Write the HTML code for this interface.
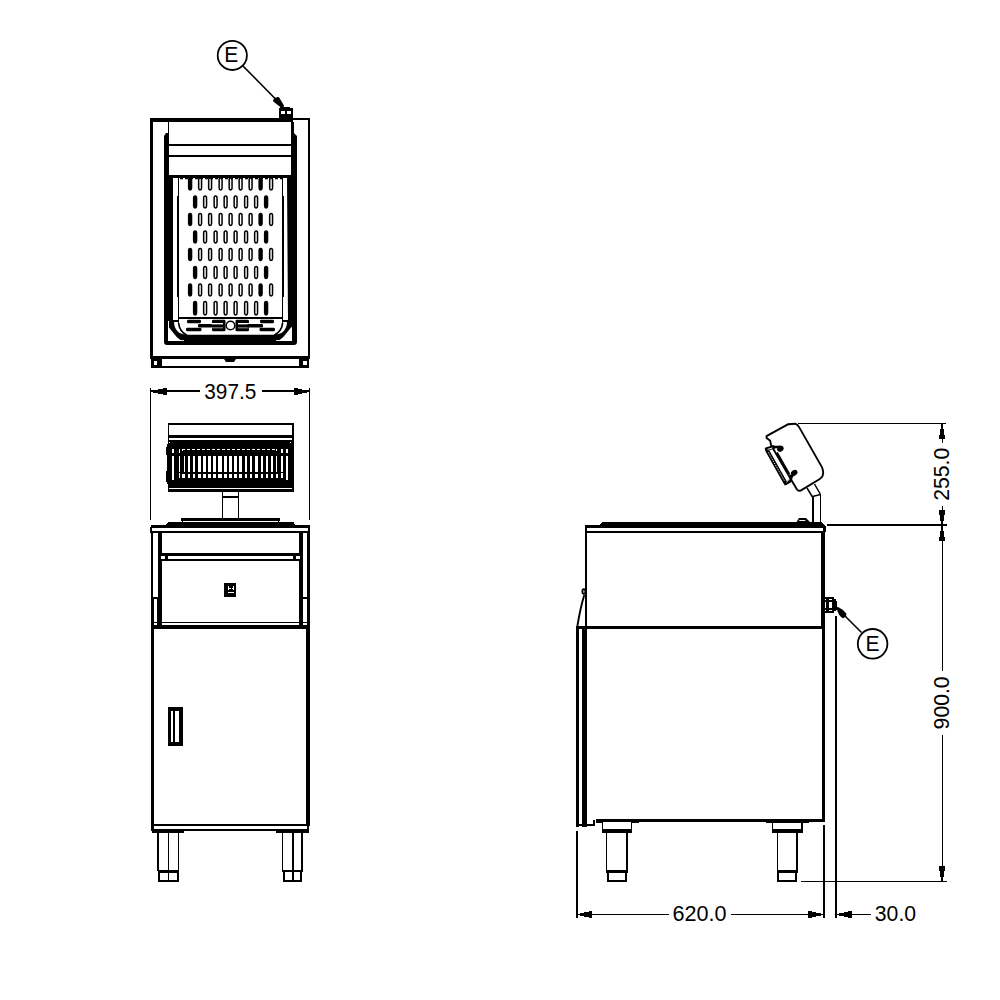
<!DOCTYPE html>
<html><head><meta charset="utf-8"><title>Fryer dimensions</title>
<style>
html,body{margin:0;padding:0;background:#fff;}
body{width:1000px;height:1000px;overflow:hidden;font-family:"Liberation Sans",sans-serif;}
svg{display:block;}
text{font-family:"Liberation Sans",sans-serif;font-size:21px;fill:#000;}
</style></head><body>
<svg width="1000" height="1000" viewBox="0 0 1000 1000">
<rect x="0" y="0" width="1000" height="1000" fill="#fff"/>
<g shape-rendering="crispEdges">
<rect x="150" y="118" width="3" height="241" fill="#000"/>
<rect x="150" y="118" width="143" height="4" fill="#000"/>
<rect x="293" y="118" width="17" height="2" fill="#000"/>
<rect x="308" y="118" width="2" height="241" fill="#000"/>
<rect x="150" y="356" width="160" height="3" fill="#000"/>
<rect x="152" y="366" width="156" height="2" fill="#000"/>
<rect x="151" y="359" width="1" height="8" fill="#000"/>
<rect x="308" y="359" width="1" height="8" fill="#000"/>
<rect x="151" y="359" width="11" height="9" fill="#000"/>
<rect x="154" y="361" width="3" height="4" fill="#fff"/>
<rect x="299" y="359" width="10" height="9" fill="#000"/>
<rect x="303" y="361" width="4" height="4" fill="#fff"/>
<rect x="279" y="108" width="14" height="10" fill="#000"/>
<rect x="280" y="107" width="10" height="2" fill="#000"/>
<rect x="281" y="111" width="4" height="3" fill="#fff"/>
<rect x="287" y="111" width="4" height="3" fill="#fff"/>
<rect x="168" y="122" width="1" height="56" fill="#000"/>
<rect x="291" y="122" width="1" height="56" fill="#000"/>
<rect x="291" y="122" width="3" height="12" fill="#000"/>
<rect x="169" y="144" width="123" height="2" fill="#000"/>
<rect x="169" y="155" width="123" height="2" fill="#000"/>
<rect x="164" y="175" width="133" height="3" fill="#000"/>
</g>
<path d="M224,359 L236,359 L234,362 L226,362 Z" fill="#000" stroke="none" stroke-width="0" />
<path d="M164,136 L166,133 L169,133 L169,175 L292,175 L292,133 L294,133 L297,136 L297,342 Q297,345 294,345 L167,345 Q164,345 164,342 Z M173,178 L173,322 L174,322 Q174.5,333.5 186,334.8 L275,334.8 Q286.5,333.5 287,322 L288,322 L287,178 Z" fill="#000" stroke="none" stroke-width="0" fill-rule="evenodd"/>
<path d="M168,321 L169,321 L169,327.5 L172,331.2 L175,335 L177.2,337.6 L180.4,340 L184,340.3 L184,341 L168,341 Z" fill="#fff" stroke="none" stroke-width="0" />
<path d="M292,327 L291,327.5 L288,331.2 L285,335 L282.8,337.6 L279.6,340 L276,340.3 L276,341 L292,341 Z" fill="#fff" stroke="none" stroke-width="0" />
<g shape-rendering="crispEdges">
<rect x="178" y="178" width="1" height="18" fill="#000"/>
<rect x="177" y="196" width="2" height="101" fill="#000"/>
<rect x="178" y="297" width="1" height="27" fill="#000"/>
<rect x="282" y="178" width="1" height="18" fill="#000"/>
<rect x="282" y="196" width="2" height="101" fill="#000"/>
<rect x="282" y="297" width="1" height="27" fill="#000"/>
<rect x="179" y="317" width="104" height="2" fill="#000"/>
<rect x="173" y="320" width="5" height="1.5" fill="#000"/>
<rect x="283" y="320" width="5" height="1.5" fill="#000"/>
</g>
<path d="M178.6,323 Q179.2,331 187,335.5" fill="none" stroke="#000" stroke-width="1.7" />
<path d="M282.6,323 Q282,331 274,335.5" fill="none" stroke="#000" stroke-width="1.7" />
<path d="M180,178.6 L283,178.6" stroke="#000" stroke-width="1.4" stroke-dasharray="3 2" fill="none"/>
<rect x="188.65" y="178.00" width="2.9" height="12" rx="1.45" ry="1.9" fill="#000" stroke="#000" stroke-width="1.5"/>
<rect x="198.65" y="178.00" width="2.9" height="12" rx="1.45" ry="1.9" fill="#fff" stroke="#000" stroke-width="1.5"/>
<rect x="208.65" y="178.00" width="2.9" height="12" rx="1.45" ry="1.9" fill="#fff" stroke="#000" stroke-width="1.5"/>
<rect x="219.15" y="178.00" width="2.9" height="12" rx="1.45" ry="1.9" fill="#fff" stroke="#000" stroke-width="1.5"/>
<rect x="229.15" y="178.00" width="2.9" height="12" rx="1.45" ry="1.9" fill="#fff" stroke="#000" stroke-width="1.5"/>
<rect x="239.15" y="178.00" width="2.9" height="12" rx="1.45" ry="1.9" fill="#fff" stroke="#000" stroke-width="1.5"/>
<rect x="249.15" y="178.00" width="2.9" height="12" rx="1.45" ry="1.9" fill="#fff" stroke="#000" stroke-width="1.5"/>
<rect x="259.15" y="178.00" width="2.9" height="12" rx="1.45" ry="1.9" fill="#000" stroke="#000" stroke-width="1.5"/>
<rect x="269.65" y="178.00" width="2.9" height="12" rx="1.45" ry="1.9" fill="#fff" stroke="#000" stroke-width="1.5"/>
<rect x="193.65" y="196.00" width="2.9" height="12" rx="1.45" ry="1.9" fill="#000" stroke="#000" stroke-width="1.5"/>
<rect x="203.65" y="196.00" width="2.9" height="12" rx="1.45" ry="1.9" fill="#fff" stroke="#000" stroke-width="1.5"/>
<rect x="214.15" y="196.00" width="2.9" height="12" rx="1.45" ry="1.9" fill="#fff" stroke="#000" stroke-width="1.5"/>
<rect x="224.15" y="196.00" width="2.9" height="12" rx="1.45" ry="1.9" fill="#fff" stroke="#000" stroke-width="1.5"/>
<rect x="234.15" y="196.00" width="2.9" height="12" rx="1.45" ry="1.9" fill="#fff" stroke="#000" stroke-width="1.5"/>
<rect x="244.65" y="196.00" width="2.9" height="12" rx="1.45" ry="1.9" fill="#fff" stroke="#000" stroke-width="1.5"/>
<rect x="254.65" y="196.00" width="2.9" height="12" rx="1.45" ry="1.9" fill="#fff" stroke="#000" stroke-width="1.5"/>
<rect x="264.65" y="196.00" width="2.9" height="12" rx="1.45" ry="1.9" fill="#000" stroke="#000" stroke-width="1.5"/>
<rect x="188.65" y="213.50" width="2.9" height="12" rx="1.45" ry="1.9" fill="#000" stroke="#000" stroke-width="1.5"/>
<rect x="198.65" y="213.50" width="2.9" height="12" rx="1.45" ry="1.9" fill="#fff" stroke="#000" stroke-width="1.5"/>
<rect x="208.65" y="213.50" width="2.9" height="12" rx="1.45" ry="1.9" fill="#fff" stroke="#000" stroke-width="1.5"/>
<rect x="219.15" y="213.50" width="2.9" height="12" rx="1.45" ry="1.9" fill="#fff" stroke="#000" stroke-width="1.5"/>
<rect x="229.15" y="213.50" width="2.9" height="12" rx="1.45" ry="1.9" fill="#fff" stroke="#000" stroke-width="1.5"/>
<rect x="239.15" y="213.50" width="2.9" height="12" rx="1.45" ry="1.9" fill="#fff" stroke="#000" stroke-width="1.5"/>
<rect x="249.15" y="213.50" width="2.9" height="12" rx="1.45" ry="1.9" fill="#fff" stroke="#000" stroke-width="1.5"/>
<rect x="259.15" y="213.50" width="2.9" height="12" rx="1.45" ry="1.9" fill="#000" stroke="#000" stroke-width="1.5"/>
<rect x="269.65" y="213.50" width="2.9" height="12" rx="1.45" ry="1.9" fill="#fff" stroke="#000" stroke-width="1.5"/>
<rect x="193.65" y="231.00" width="2.9" height="12" rx="1.45" ry="1.9" fill="#000" stroke="#000" stroke-width="1.5"/>
<rect x="203.65" y="231.00" width="2.9" height="12" rx="1.45" ry="1.9" fill="#fff" stroke="#000" stroke-width="1.5"/>
<rect x="214.15" y="231.00" width="2.9" height="12" rx="1.45" ry="1.9" fill="#fff" stroke="#000" stroke-width="1.5"/>
<rect x="224.15" y="231.00" width="2.9" height="12" rx="1.45" ry="1.9" fill="#fff" stroke="#000" stroke-width="1.5"/>
<rect x="234.15" y="231.00" width="2.9" height="12" rx="1.45" ry="1.9" fill="#fff" stroke="#000" stroke-width="1.5"/>
<rect x="244.65" y="231.00" width="2.9" height="12" rx="1.45" ry="1.9" fill="#fff" stroke="#000" stroke-width="1.5"/>
<rect x="254.65" y="231.00" width="2.9" height="12" rx="1.45" ry="1.9" fill="#fff" stroke="#000" stroke-width="1.5"/>
<rect x="264.65" y="231.00" width="2.9" height="12" rx="1.45" ry="1.9" fill="#000" stroke="#000" stroke-width="1.5"/>
<rect x="188.65" y="248.50" width="2.9" height="12" rx="1.45" ry="1.9" fill="#000" stroke="#000" stroke-width="1.5"/>
<rect x="198.65" y="248.50" width="2.9" height="12" rx="1.45" ry="1.9" fill="#fff" stroke="#000" stroke-width="1.5"/>
<rect x="208.65" y="248.50" width="2.9" height="12" rx="1.45" ry="1.9" fill="#fff" stroke="#000" stroke-width="1.5"/>
<rect x="219.15" y="248.50" width="2.9" height="12" rx="1.45" ry="1.9" fill="#fff" stroke="#000" stroke-width="1.5"/>
<rect x="229.15" y="248.50" width="2.9" height="12" rx="1.45" ry="1.9" fill="#fff" stroke="#000" stroke-width="1.5"/>
<rect x="239.15" y="248.50" width="2.9" height="12" rx="1.45" ry="1.9" fill="#fff" stroke="#000" stroke-width="1.5"/>
<rect x="249.15" y="248.50" width="2.9" height="12" rx="1.45" ry="1.9" fill="#fff" stroke="#000" stroke-width="1.5"/>
<rect x="259.15" y="248.50" width="2.9" height="12" rx="1.45" ry="1.9" fill="#000" stroke="#000" stroke-width="1.5"/>
<rect x="269.65" y="248.50" width="2.9" height="12" rx="1.45" ry="1.9" fill="#fff" stroke="#000" stroke-width="1.5"/>
<rect x="193.65" y="266.50" width="2.9" height="12" rx="1.45" ry="1.9" fill="#000" stroke="#000" stroke-width="1.5"/>
<rect x="203.65" y="266.50" width="2.9" height="12" rx="1.45" ry="1.9" fill="#fff" stroke="#000" stroke-width="1.5"/>
<rect x="214.15" y="266.50" width="2.9" height="12" rx="1.45" ry="1.9" fill="#fff" stroke="#000" stroke-width="1.5"/>
<rect x="224.15" y="266.50" width="2.9" height="12" rx="1.45" ry="1.9" fill="#fff" stroke="#000" stroke-width="1.5"/>
<rect x="234.15" y="266.50" width="2.9" height="12" rx="1.45" ry="1.9" fill="#fff" stroke="#000" stroke-width="1.5"/>
<rect x="244.65" y="266.50" width="2.9" height="12" rx="1.45" ry="1.9" fill="#fff" stroke="#000" stroke-width="1.5"/>
<rect x="254.65" y="266.50" width="2.9" height="12" rx="1.45" ry="1.9" fill="#fff" stroke="#000" stroke-width="1.5"/>
<rect x="264.65" y="266.50" width="2.9" height="12" rx="1.45" ry="1.9" fill="#000" stroke="#000" stroke-width="1.5"/>
<rect x="188.65" y="284.00" width="2.9" height="12" rx="1.45" ry="1.9" fill="#000" stroke="#000" stroke-width="1.5"/>
<rect x="198.65" y="284.00" width="2.9" height="12" rx="1.45" ry="1.9" fill="#fff" stroke="#000" stroke-width="1.5"/>
<rect x="208.65" y="284.00" width="2.9" height="12" rx="1.45" ry="1.9" fill="#fff" stroke="#000" stroke-width="1.5"/>
<rect x="219.15" y="284.00" width="2.9" height="12" rx="1.45" ry="1.9" fill="#fff" stroke="#000" stroke-width="1.5"/>
<rect x="229.15" y="284.00" width="2.9" height="12" rx="1.45" ry="1.9" fill="#fff" stroke="#000" stroke-width="1.5"/>
<rect x="239.15" y="284.00" width="2.9" height="12" rx="1.45" ry="1.9" fill="#fff" stroke="#000" stroke-width="1.5"/>
<rect x="249.15" y="284.00" width="2.9" height="12" rx="1.45" ry="1.9" fill="#fff" stroke="#000" stroke-width="1.5"/>
<rect x="259.15" y="284.00" width="2.9" height="12" rx="1.45" ry="1.9" fill="#000" stroke="#000" stroke-width="1.5"/>
<rect x="269.65" y="284.00" width="2.9" height="12" rx="1.45" ry="1.9" fill="#fff" stroke="#000" stroke-width="1.5"/>
<rect x="193.65" y="301.50" width="2.9" height="13.5" rx="1.45" ry="1.9" fill="#000" stroke="#000" stroke-width="1.5"/>
<rect x="203.65" y="301.50" width="2.9" height="13.5" rx="1.45" ry="1.9" fill="#fff" stroke="#000" stroke-width="1.5"/>
<rect x="214.15" y="301.50" width="2.9" height="13.5" rx="1.45" ry="1.9" fill="#fff" stroke="#000" stroke-width="1.5"/>
<rect x="224.15" y="301.50" width="2.9" height="13.5" rx="1.45" ry="1.9" fill="#fff" stroke="#000" stroke-width="1.5"/>
<rect x="234.15" y="301.50" width="2.9" height="13.5" rx="1.45" ry="1.9" fill="#fff" stroke="#000" stroke-width="1.5"/>
<rect x="244.65" y="301.50" width="2.9" height="13.5" rx="1.45" ry="1.9" fill="#fff" stroke="#000" stroke-width="1.5"/>
<rect x="254.65" y="301.50" width="2.9" height="13.5" rx="1.45" ry="1.9" fill="#fff" stroke="#000" stroke-width="1.5"/>
<rect x="264.65" y="301.50" width="2.9" height="13.5" rx="1.45" ry="1.9" fill="#000" stroke="#000" stroke-width="1.5"/>
<rect x="187" y="319.7" width="14" height="3.6000000000000227" rx="1.4" fill="#000"/>
<rect x="186" y="327.7" width="15.5" height="3.6000000000000227" rx="1.4" fill="#000"/>
<rect x="198" y="324" width="16" height="3.6000000000000227" rx="1.4" fill="#000"/>
<rect x="212" y="319.7" width="13.5" height="11.600000000000023" rx="1.4" fill="#000"/>
<rect x="235.5" y="319.7" width="13.5" height="11.600000000000023" rx="1.4" fill="#000"/>
<rect x="211.5" y="323" width="11.5" height="1.4" fill="#fff"/>
<rect x="211.5" y="327.6" width="11.5" height="0.6" fill="#fff"/>
<rect x="238" y="323" width="11.5" height="1.4" fill="#fff"/>
<rect x="238" y="327.6" width="11.5" height="0.6" fill="#fff"/>
<rect x="247" y="324" width="16" height="3.6000000000000227" rx="1.4" fill="#000"/>
<rect x="260" y="319.7" width="14" height="3.6000000000000227" rx="1.4" fill="#000"/>
<rect x="259.5" y="327.7" width="15.5" height="3.6000000000000227" rx="1.4" fill="#000"/>
<circle cx="230.5" cy="325.5" r="4.3" fill="#fff" stroke="#000" stroke-width="1.5"/>
<g shape-rendering="crispEdges">
<rect x="168" y="423" width="126" height="2" fill="#000"/>
<rect x="168" y="423" width="1" height="18" fill="#000"/>
<rect x="292" y="423" width="2" height="69" fill="#000"/>
<rect x="168" y="435" width="126" height="3" fill="#000"/>
<rect x="168" y="440" width="126" height="52" fill="#000"/>
<rect x="169" y="488" width="123" height="1" fill="#fff"/>
<rect x="166" y="447" width="2" height="8" fill="#000"/>
<rect x="166" y="471" width="2" height="11" fill="#000"/>
<rect x="167" y="444" width="1" height="40" fill="#000"/>
<rect x="169" y="442" width="1" height="1" fill="#fff"/>
<rect x="290" y="442" width="1" height="1" fill="#fff"/>
<rect x="182" y="449" width="3" height="1" fill="#fff"/>
<rect x="187" y="449" width="3" height="1" fill="#fff"/>
<rect x="192" y="449" width="3" height="1" fill="#fff"/>
<rect x="197" y="449" width="3" height="1" fill="#fff"/>
<rect x="202" y="449" width="3" height="1" fill="#fff"/>
<rect x="207" y="449" width="3" height="1" fill="#fff"/>
<rect x="212" y="449" width="3" height="1" fill="#fff"/>
<rect x="217" y="449" width="3" height="1" fill="#fff"/>
<rect x="222" y="449" width="3" height="1" fill="#fff"/>
<rect x="227" y="449" width="3" height="1" fill="#fff"/>
<rect x="232" y="449" width="3" height="1" fill="#fff"/>
<rect x="237" y="449" width="3" height="1" fill="#fff"/>
<rect x="242" y="449" width="3" height="1" fill="#fff"/>
<rect x="247" y="449" width="3" height="1" fill="#fff"/>
<rect x="252" y="449" width="3" height="1" fill="#fff"/>
<rect x="257" y="449" width="3" height="1" fill="#fff"/>
<rect x="262" y="449" width="3" height="1" fill="#fff"/>
<rect x="267" y="449" width="3" height="1" fill="#fff"/>
<rect x="272" y="449" width="3" height="1" fill="#fff"/>
<rect x="182" y="449" width="1" height="2" fill="#fff"/>
<rect x="276" y="449" width="1" height="2" fill="#fff"/>
<rect x="188" y="456" width="2" height="16" fill="#fff"/>
<rect x="188" y="474" width="2" height="4" fill="#fff"/>
<rect x="193" y="456" width="2" height="16" fill="#fff"/>
<rect x="193" y="474" width="2" height="4" fill="#fff"/>
<rect x="198" y="456" width="3" height="16" fill="#fff"/>
<rect x="198" y="474" width="3" height="4" fill="#fff"/>
<rect x="203" y="456" width="3" height="16" fill="#fff"/>
<rect x="203" y="474" width="3" height="4" fill="#fff"/>
<rect x="208" y="456" width="3" height="16" fill="#fff"/>
<rect x="208" y="474" width="3" height="4" fill="#fff"/>
<rect x="213" y="456" width="3" height="16" fill="#fff"/>
<rect x="213" y="474" width="3" height="4" fill="#fff"/>
<rect x="218" y="456" width="4" height="16" fill="#fff"/>
<rect x="218" y="474" width="4" height="4" fill="#fff"/>
<rect x="224" y="456" width="3" height="16" fill="#fff"/>
<rect x="224" y="474" width="3" height="4" fill="#fff"/>
<rect x="229" y="456" width="3" height="16" fill="#fff"/>
<rect x="229" y="474" width="3" height="4" fill="#fff"/>
<rect x="234" y="456" width="3" height="16" fill="#fff"/>
<rect x="234" y="474" width="3" height="4" fill="#fff"/>
<rect x="239" y="456" width="3" height="16" fill="#fff"/>
<rect x="239" y="474" width="3" height="4" fill="#fff"/>
<rect x="245" y="456" width="2" height="16" fill="#fff"/>
<rect x="245" y="474" width="2" height="4" fill="#fff"/>
<rect x="250" y="456" width="2" height="16" fill="#fff"/>
<rect x="250" y="474" width="2" height="4" fill="#fff"/>
<rect x="255" y="456" width="3" height="16" fill="#fff"/>
<rect x="255" y="474" width="3" height="4" fill="#fff"/>
<rect x="261" y="456" width="2" height="16" fill="#fff"/>
<rect x="261" y="474" width="2" height="4" fill="#fff"/>
<rect x="266" y="456" width="2" height="16" fill="#fff"/>
<rect x="266" y="474" width="2" height="4" fill="#fff"/>
<rect x="271" y="456" width="2" height="16" fill="#fff"/>
<rect x="271" y="474" width="2" height="4" fill="#fff"/>
<rect x="276" y="456" width="1" height="16" fill="#fff"/>
<rect x="276" y="474" width="1" height="4" fill="#fff"/>
<rect x="184" y="456" width="1" height="16" fill="#fff"/>
<rect x="182" y="474" width="3" height="4" fill="#fff"/>
<rect x="276" y="474" width="2" height="4" fill="#fff"/>
<rect x="172" y="449" width="2" height="4" fill="#fff"/>
<rect x="172" y="456" width="2" height="24" fill="#fff"/>
<rect x="179" y="449" width="1" height="4" fill="#fff"/>
<rect x="179" y="456" width="1" height="16" fill="#fff"/>
<rect x="179" y="473" width="1" height="5" fill="#fff"/>
<rect x="281" y="449" width="2" height="4" fill="#fff"/>
<rect x="281" y="456" width="2" height="16" fill="#fff"/>
<rect x="281" y="473" width="2" height="5" fill="#fff"/>
<rect x="286" y="449" width="2" height="4" fill="#fff"/>
<rect x="286" y="456" width="2" height="24" fill="#fff"/>
<rect x="222" y="492" width="1" height="28" fill="#000"/>
<rect x="238" y="492" width="1" height="28" fill="#000"/>
<rect x="222" y="496" width="17" height="2" fill="#000"/>
</g>
<g shape-rendering="crispEdges">
<rect x="181" y="518" width="99" height="3" fill="#000"/>
<rect x="182" y="521" width="1" height="1" fill="#000"/>
<rect x="278" y="521" width="1" height="1" fill="#000"/>
<path d="M166,525 L168,522 L294,522 L295,525 L310,525 L310,528 L151,528 L151,525 Z" fill="#000" stroke="none" stroke-width="0" />
<rect x="150" y="527" width="2" height="6" fill="#000"/>
<rect x="308" y="525" width="2" height="8" fill="#000"/>
<rect x="150" y="531" width="160" height="2" fill="#000"/>
<rect x="151" y="533" width="2" height="64" fill="#000"/>
<rect x="158" y="533" width="4" height="66" fill="#000"/>
<rect x="299" y="533" width="4" height="96" fill="#000"/>
<rect x="307" y="533" width="3" height="96" fill="#000"/>
<rect x="162" y="553" width="137" height="3" fill="#000"/>
<rect x="162" y="559" width="137" height="2" fill="#000"/>
<rect x="165" y="556" width="3" height="3" fill="#000"/>
<rect x="293" y="556" width="3" height="3" fill="#000"/>
<rect x="161" y="556" width="1" height="3" fill="#fff"/>
<rect x="299" y="556" width="1" height="3" fill="#fff"/>
<rect x="224" y="583" width="12" height="14" fill="#000"/>
<rect x="228" y="586" width="1" height="4" fill="#fff"/>
<rect x="233" y="586" width="1" height="4" fill="#fff"/>
<rect x="229" y="587.5" width="1.5" height="1.0" fill="#fff"/>
<rect x="231.5" y="587.5" width="1.5" height="1.0" fill="#fff"/>
<rect x="228" y="592" width="6" height="1" fill="#fff"/>
<rect x="151" y="597" width="7" height="2" fill="#000"/>
<rect x="151" y="599" width="3" height="30" fill="#000"/>
<rect x="157" y="599" width="5" height="30" fill="#000"/>
<rect x="303" y="597" width="4" height="2" fill="#000"/>
<rect x="154" y="622" width="153" height="1" fill="#000"/>
<rect x="151" y="625" width="159" height="4" fill="#000"/>
<rect x="151" y="629" width="3" height="202" fill="#000"/>
<rect x="306" y="629" width="4" height="197" fill="#000"/>
<rect x="168" y="707" width="15" height="39" fill="#000"/>
<rect x="171" y="711" width="2" height="31" fill="#fff"/>
<rect x="175" y="711" width="4" height="31" fill="#fff"/>
<rect x="154" y="824" width="152" height="2" fill="#000"/>
<rect x="152" y="829" width="157" height="2" fill="#000"/>
<rect x="152" y="829" width="32" height="4" fill="#000"/>
<rect x="276" y="829" width="33" height="4" fill="#000"/>
<rect x="307" y="826" width="2" height="7" fill="#000"/>
<rect x="157" y="833" width="2" height="38" fill="#000"/>
<rect x="168" y="833" width="1" height="49" fill="#000"/>
<rect x="178" y="833" width="1" height="38" fill="#000"/>
<rect x="158" y="870" width="21" height="3" fill="#000"/>
<rect x="158" y="873" width="2" height="9" fill="#000"/>
<rect x="177" y="873" width="2" height="9" fill="#000"/>
<rect x="158" y="880" width="21" height="2" fill="#000"/>
<rect x="282" y="833" width="1" height="38" fill="#000"/>
<rect x="292" y="833" width="2" height="49" fill="#000"/>
<rect x="301" y="833" width="2" height="38" fill="#000"/>
<rect x="282" y="870" width="21" height="2" fill="#000"/>
<rect x="283" y="872" width="2" height="10" fill="#000"/>
<rect x="300" y="872" width="2" height="10" fill="#000"/>
<rect x="283" y="880" width="19" height="2" fill="#000"/>
</g>
<g shape-rendering="crispEdges">
<path d="M600,525 L602,522 L821,522 L824,524.6 L825,525 L825,528 L585,528 L585,525 Z" fill="#000" stroke="none" stroke-width="0" />
<rect x="585" y="525" width="2" height="8" fill="#000"/>
<rect x="585" y="531" width="238" height="2" fill="#000"/>
<rect x="825" y="526" width="1" height="6" fill="#000"/>
<rect x="585" y="533" width="2" height="93" fill="#000"/>
<rect x="823" y="528" width="2" height="3" fill="#000"/>
<rect x="821" y="531" width="4" height="96" fill="#000"/>
<rect x="822" y="627" width="3" height="195" fill="#000"/>
<rect x="576" y="626" width="246" height="3" fill="#000"/>
<rect x="576" y="629" width="3" height="198" fill="#000"/>
<rect x="582" y="629" width="5" height="198" fill="#000"/>
<rect x="576" y="824" width="18" height="2" fill="#000"/>
<rect x="593" y="820" width="2" height="6" fill="#000"/>
<rect x="596" y="819" width="229" height="3" fill="#000"/>
<rect x="596" y="822" width="6" height="1" fill="#000"/>
<rect x="632" y="822" width="7" height="1" fill="#000"/>
<rect x="602" y="822" width="1" height="11" fill="#000"/>
<rect x="631" y="822" width="1" height="11" fill="#000"/>
<rect x="602" y="829" width="30" height="4" fill="#000"/>
<rect x="606" y="833" width="1" height="38" fill="#000"/>
<rect x="626" y="833" width="2" height="38" fill="#000"/>
<rect x="606" y="870" width="22" height="3" fill="#000"/>
<rect x="607" y="873" width="2" height="9" fill="#000"/>
<rect x="625" y="873" width="2" height="9" fill="#000"/>
<rect x="607" y="880" width="20" height="2" fill="#000"/>
<rect x="766" y="822" width="43" height="1" fill="#000"/>
<rect x="772" y="822" width="1" height="11" fill="#000"/>
<rect x="801" y="822" width="2" height="11" fill="#000"/>
<rect x="772" y="829" width="31" height="4" fill="#000"/>
<rect x="777" y="833" width="1" height="38" fill="#000"/>
<rect x="796" y="833" width="2" height="38" fill="#000"/>
<rect x="777" y="870" width="21" height="3" fill="#000"/>
<rect x="777" y="873" width="2" height="9" fill="#000"/>
<rect x="795" y="873" width="2" height="9" fill="#000"/>
<rect x="777" y="880" width="20" height="2" fill="#000"/>
<rect x="825" y="597" width="9" height="16" fill="#000"/>
<rect x="834" y="599" width="2" height="12" fill="#000"/>
<rect x="836" y="601" width="1" height="9" fill="#000"/>
<rect x="825" y="599" width="1" height="1" fill="#fff"/>
<rect x="825" y="602" width="1" height="6" fill="#fff"/>
<rect x="825" y="610" width="1" height="1" fill="#fff"/>
<rect x="829" y="599" width="3" height="1" fill="#fff"/>
<rect x="829" y="602" width="3" height="6" fill="#fff"/>
<rect x="829" y="610" width="3" height="1" fill="#fff"/>
<rect x="812" y="496" width="2" height="27" fill="#000"/>
<rect x="820" y="494" width="1" height="29" fill="#000"/>
</g>
<path d="M796.5,522 L799,518 L806,518 L810,522 Z" fill="#000" stroke="none" stroke-width="0" />
<path d="M799.5,520 L805,520 L805.5,521 L799,521 Z" fill="#fff" stroke="none" stroke-width="0" />
<ellipse cx="583.9" cy="591.6" rx="1.5" ry="2.3" fill="#fff" stroke="#000" stroke-width="1.9"/>
<path d="M584.3,595 Q580.3,608 577.4,626" fill="none" stroke="#000" stroke-width="1.9" />
<path d="M807,488 L812.5,497 M814.5,484 L820.5,494.5 M812.5,496.5 L820.5,494.5" fill="none" stroke="#000" stroke-width="1.5" />
<path d="M766.5,436.2 L788.3,424.2 L795,423.7 Q797.8,424.6 799.4,427.6 L822.2,467.6 Q823.9,472 822.7,475.6 Q821.8,477.8 819.4,479.2 L801,490.4 Q798.5,491.6 797,489.5 L792.5,482 L771,445 L770.2,440.8 L766.6,438 Z" fill="#fff" stroke="#000" stroke-width="1.9" stroke-linejoin="round"/>
<path d="M767.2,450.5 L785.2,482.5" fill="none" stroke="#000" stroke-width="3.8" stroke-linecap="round"/>
<path d="M768.4,452.4 L784.4,480.8" fill="none" stroke="#fff" stroke-width="0.9" stroke-dasharray="1.3 1.1"/>
<path d="M777,452.5 L789.5,474.5" fill="none" stroke="#000" stroke-width="1.9" />
<path d="M766.6,449 L773.5,447.2" fill="none" stroke="#000" stroke-width="3.8" stroke-linecap="round"/>
<path d="M773,447.3 L781,446.8" fill="none" stroke="#000" stroke-width="2.4" />
<path d="M767.6,449.4 L772.4,448" fill="none" stroke="#fff" stroke-width="1" />
<path d="M785.5,483.6 L790,481 L791.5,476 L795.5,472.5" fill="none" stroke="#000" stroke-width="3.2" stroke-linecap="round" stroke-linejoin="round"/>
<path d="M786.5,482 L789.6,479" fill="none" stroke="#fff" stroke-width="1" />
<ellipse cx="780.4" cy="448.8" rx="3.4" ry="2.7" fill="#000" transform="rotate(-30 780.4 448.8)"/>
<ellipse cx="794.2" cy="472.8" rx="3.4" ry="2.7" fill="#000" transform="rotate(-30 794.2 472.8)"/>
<g shape-rendering="crispEdges">
<rect x="150" y="388" width="1" height="132" fill="#000"/>
<rect x="309" y="388" width="1" height="132" fill="#000"/>
<rect x="151" y="390" width="48.5" height="2" fill="#000"/>
<rect x="261.5" y="390" width="47.5" height="2" fill="#000"/>
<rect x="576" y="831" width="2" height="87" fill="#000"/>
<rect x="823" y="825" width="2" height="93" fill="#000"/>
<rect x="835" y="616" width="2" height="302" fill="#000"/>
<rect x="578" y="914" width="91" height="1" fill="#000"/>
<rect x="731" y="914" width="92" height="1" fill="#000"/>
<rect x="837" y="914" width="34" height="1" fill="#000"/>
<rect x="798" y="423" width="148" height="1" fill="#000"/>
<rect x="827" y="524" width="120" height="2" fill="#000"/>
<rect x="801" y="881" width="146" height="1" fill="#000"/>
<rect x="942" y="424" width="1" height="19" fill="#000"/>
<rect x="942" y="506" width="1" height="19" fill="#000"/>
<rect x="942" y="526" width="1" height="145" fill="#000"/>
<rect x="942" y="735" width="1" height="146" fill="#000"/>
<rect x="153.08" y="390.0" width="4.96" height="3.0" fill="#000"/>
<rect x="158.04" y="389.0" width="4.96" height="5.0" fill="#000"/>
<rect x="163.0" y="388.0" width="4.0" height="7.0" fill="#000"/>
<rect x="302.4" y="390.0" width="4.65" height="3.0" fill="#000"/>
<rect x="297.75" y="389.0" width="4.65" height="5.0" fill="#000"/>
<rect x="294.0" y="388.0" width="3.75" height="7.0" fill="#000"/>
<rect x="579.82" y="913.0" width="4.34" height="3.0" fill="#000"/>
<rect x="584.16" y="912.0" width="4.34" height="5.0" fill="#000"/>
<rect x="588.5" y="911.0" width="3.5" height="7.0" fill="#000"/>
<rect x="816.4" y="913.0" width="4.65" height="3.0" fill="#000"/>
<rect x="811.75" y="912.0" width="4.65" height="5.0" fill="#000"/>
<rect x="808.0" y="911.0" width="3.75" height="7.0" fill="#000"/>
<rect x="838.95" y="913.0" width="4.65" height="3.0" fill="#000"/>
<rect x="843.6" y="912.0" width="4.65" height="5.0" fill="#000"/>
<rect x="848.25" y="911.0" width="3.75" height="7.0" fill="#000"/>
<rect x="941" y="424.0" width="2" height="4.5" fill="#000"/>
<rect x="940" y="428.5" width="4" height="6.0" fill="#000"/>
<rect x="939" y="434.5" width="6" height="4.5" fill="#000"/>
<rect x="941" y="520.5" width="2" height="4.5" fill="#000"/>
<rect x="940" y="514.5" width="4" height="6.0" fill="#000"/>
<rect x="939" y="510.0" width="6" height="4.5" fill="#000"/>
<rect x="941" y="526.0" width="2" height="4.5" fill="#000"/>
<rect x="940" y="530.5" width="4" height="6.0" fill="#000"/>
<rect x="939" y="536.5" width="6" height="4.5" fill="#000"/>
<rect x="941" y="876.5" width="2" height="4.5" fill="#000"/>
<rect x="940" y="870.5" width="4" height="6.0" fill="#000"/>
<rect x="939" y="866.0" width="6" height="4.5" fill="#000"/>
</g>
<text transform="translate(204.3 398.7) scale(0.99 1.06)">397.5</text>
<text transform="translate(672.4 921.3) scale(1.03 1.06)">620.0</text>
<text transform="translate(874.8 921.3) scale(1.01 1.06)">30.0</text>
<text transform="translate(949.4 500.8) rotate(-90) scale(1.01 1.06)">255.0</text>
<text transform="translate(949.4 729.4) rotate(-90) scale(1.01 1.06)">900.0</text>
<circle cx="232.3" cy="55.4" r="14.6" fill="#fff" stroke="#000" stroke-width="1.8"/>
<text transform="translate(224.3 62.4) scale(1 1.07)">E</text>
<circle cx="872.6" cy="643.8" r="14.8" fill="#fff" stroke="#000" stroke-width="1.8"/>
<text transform="translate(865.6 651.2) scale(1 1.07)">E</text>
<path d="M243,66 L276,99.5" fill="none" stroke="#000" stroke-width="1.6" />
<path d="M273,100.4 L274.2,98.2 L277.2,97 L279,97.2 L284,105.6 L283.6,107.6 L281.2,107.8 L273.6,101.8 Z" fill="#000" stroke="none" stroke-width="0" />
<path d="M861.5,632.5 L845,616" fill="none" stroke="#000" stroke-width="1.6" />
<path d="M836.6,606.8 L839,607.5 L843,610 L846.2,613.5 L846.2,616.5 L843,618.2 L841,617 L839,614.5 L837.4,611 Z" fill="#000" stroke="none" stroke-width="0" />
</svg>
</body></html>
